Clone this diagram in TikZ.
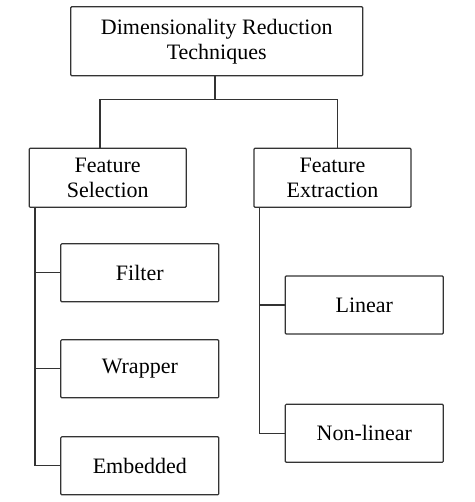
\documentclass[tikz,border=0pt]{standalone}
\usepackage{fontspec}
\setmainfont{Liberation Serif}
\usepackage{tikz}
\usetikzlibrary{positioning}

\begin{document}
\begin{tikzpicture}[x=1pt,y=-1pt,font=\fontsize{22}{25}\selectfont,
  box/.style={draw=black!80,line width=1.2pt,rounded corners=1pt,align=center,inner sep=0pt},
  link/.style={draw=black!80,line width=1.2pt}]
  \useasboundingbox (0,0) rectangle (474,502);
  % root
  \node[box,minimum width=292,minimum height=69] (dr) at (216.7,41.3) {Dimensionality Reduction\\Techniques};
  % second level
  \node[box,minimum width=157,minimum height=59] (fs) at (107.7,177.8) {Feature\\Selection};
  \node[box,minimum width=157,minimum height=59] (fe) at (332.5,177.8) {Feature\\Extraction};
  % leaves
  \node[box,minimum width=158,minimum height=58] (filter) at (139.8,272.8) {Filter};
  \node[box,minimum width=158,minimum height=58] (wrapper) at (139.8,368.8) {Wrapper};
  \node[box,minimum width=158,minimum height=58] (embedded) at (139.8,465.8) {Embedded};
  \node[box,minimum width=158,minimum height=58] (linear) at (364.3,305) {Linear};
  \node[box,minimum width=158,minimum height=58] (nonlinear) at (364.3,433.3) {Non-linear};
  % connectors
  \coordinate (split) at (215,99.3);
  \draw[link] (dr.south -| split) -- (split);
  \draw[link] ([xshift=-7.7pt]fs.north) |- (split) -| ([xshift=4.8pt]fe.north);
  \foreach \n in {filter,wrapper,embedded}{\draw[link] (\n.west) -| ([xshift=6.4pt]fs.south west);}
  \foreach \n in {linear,nonlinear}{\draw[link] (\n.west) -| ([xshift=6pt]fe.south west);}
\end{tikzpicture}
\end{document}
